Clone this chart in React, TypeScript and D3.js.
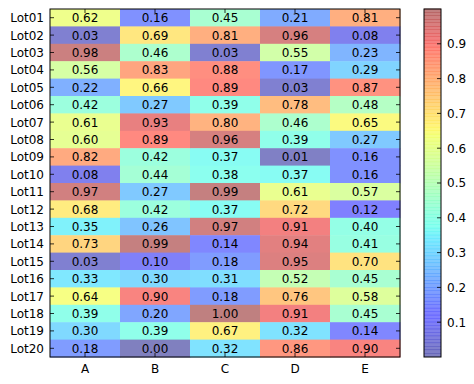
import React from "react";
import * as d3 from "d3";

const rows = ["Lot01","Lot02","Lot03","Lot04","Lot05","Lot06","Lot07","Lot08","Lot09","Lot10","Lot11","Lot12","Lot13","Lot14","Lot15","Lot16","Lot17","Lot18","Lot19","Lot20"];
const cols = ["A","B","C","D","E"];
const colA = [0.62,0.03,0.98,0.56,0.22,0.42,0.61,0.60,0.82,0.08,0.97,0.68,0.35,0.73,0.03,0.33,0.64,0.39,0.30,0.18];
const colB = [0.16,0.69,0.46,0.83,0.66,0.27,0.93,0.89,0.42,0.44,0.27,0.42,0.26,0.99,0.10,0.30,0.90,0.20,0.39,0.00];
const colC = [0.45,0.81,0.03,0.88,0.89,0.39,0.80,0.96,0.37,0.38,0.99,0.37,0.97,0.14,0.18,0.31,0.18,1.00,0.67,0.32];
const colD = [0.21,0.96,0.55,0.17,0.03,0.78,0.46,0.39,0.01,0.37,0.61,0.72,0.91,0.94,0.95,0.52,0.76,0.91,0.32,0.86];
const colE = [0.81,0.08,0.23,0.29,0.87,0.48,0.65,0.27,0.16,0.16,0.57,0.12,0.40,0.41,0.70,0.45,0.58,0.45,0.14,0.90];
const colorbarTicks = [0.1,0.2,0.3,0.4,0.5,0.6,0.7,0.8,0.9];

const seriesByCol = [colA, colB, colC, colD, colE];

function seg(pts: number[][], x: number) {
  for (let i = 0; i < pts.length - 1; i++) {
    const [x0, y0] = pts[i];
    const [x1, y1] = pts[i + 1];
    if (x >= x0 && x <= x1) return y0 + ((x - x0) / (x1 - x0 || 1)) * (y1 - y0);
  }
  return pts[pts.length - 1][1];
}
const jetR = [[0,0],[0.35,0],[0.66,1],[0.89,1],[1,0.5]];
const jetG = [[0,0],[0.125,0],[0.375,1],[0.64,1],[0.91,0],[1,0]];
const jetB = [[0,0.5],[0.11,1],[0.34,1],[0.65,0],[1,0]];
function jet(v: number, alpha = 1) {
  const t = Math.max(0, Math.min(1, v));
  const f = (c: number) => Math.round((c * alpha + (1 - alpha)) * 255);
  return `rgb(${f(seg(jetR, t))},${f(seg(jetG, t))},${f(seg(jetB, t))})`;
}

const W = 474, H = 384;
const left = 50, right = 400, top = 9, bottom = 357;
const cbLeft = 424, cbRight = 441;
const font = "'DejaVu Sans', sans-serif";

export default function App() {
  const x = d3.scaleBand<string>().domain(cols).range([left, right]);
  const y = d3.scaleBand<string>().domain(rows).range([top, bottom]);
  const norm = d3.scaleLinear().domain([0, 1]).range([0, 1]);
  const cbY = d3.scaleLinear().domain([0, 1]).range([bottom, top]);
  const nSeg = 100;
  const segs = d3.range(nSeg).map((i) => i / nSeg);

  return (
    <svg width={W} height={H} style={{ position: "absolute", left: 0, top: 0, background: "#fff" }} fontFamily={font}>
      <rect x={0} y={0} width={W} height={H} fill="#fff" />
      {cols.map((c, ci) =>
        rows.map((r, ri) => {
          const v = seriesByCol[ci][ri];
          return (
            <rect key={c + r} x={x(c)!} y={y(r)!} width={x.bandwidth() + 0.5} height={y.bandwidth() + 0.5}
              fill={jet(norm(v), 0.5)} />
          );
        })
      )}
      {cols.map((c, ci) =>
        rows.map((r, ri) => {
          const v = seriesByCol[ci][ri];
          return (
            <text key={"t" + c + r} x={x(c)! + x.bandwidth() / 2} y={y(r)! + y.bandwidth() / 2 + 4.4}
              textAnchor="middle" fontSize={12} fill="#000">{v.toFixed(2)}</text>
          );
        })
      )}
      {rows.map((r) => {
        const yy = y(r)! + y.bandwidth() / 2;
        return (
          <g key={"yt" + r}>
            <line x1={left} x2={left + 4} y1={yy} y2={yy} stroke="#000" strokeWidth={0.8} />
            <line x1={right} x2={right - 4} y1={yy} y2={yy} stroke="#000" strokeWidth={0.8} />
            <text x={44} y={yy + 4.4} textAnchor="end" fontSize={12} fill="#000">{r}</text>
          </g>
        );
      })}
      {cols.map((c) => {
        const xx = x(c)! + x.bandwidth() / 2;
        return (
          <g key={"xt" + c}>
            <line x1={xx} x2={xx} y1={bottom} y2={bottom - 4} stroke="#000" strokeWidth={0.8} />
            <line x1={xx} x2={xx} y1={top} y2={top + 4} stroke="#000" strokeWidth={0.8} />
            <text x={xx} y={372.5} textAnchor="middle" fontSize={12} fill="#000">{c}</text>
          </g>
        );
      })}
      <rect x={left} y={top} width={right - left} height={bottom - top} fill="none" stroke="#000" strokeWidth={1} />
      {segs.map((s, i) => {
        const y0 = cbY(s + 1 / nSeg);
        const y1 = cbY(s);
        return (
          <rect key={"cb" + i} x={cbLeft} y={y0 - 0.4} width={cbRight - cbLeft} height={y1 - y0 + 0.4}
            fill={jet(s + 0.5 / nSeg)} fillOpacity={0.5} />
        );
      })}
      <rect x={cbLeft} y={top} width={cbRight - cbLeft} height={bottom - top} fill="none" stroke="#000" strokeWidth={1} />
      {colorbarTicks.map((t) => (
        <g key={"cbt" + t}>
          <line x1={cbRight} x2={cbRight - 4} y1={cbY(t)} y2={cbY(t)} stroke="#000" strokeWidth={0.8} />
          <text x={447} y={cbY(t) + 4.4} fontSize={12} fill="#000">{t.toFixed(1)}</text>
        </g>
      ))}
    </svg>
  );
}
